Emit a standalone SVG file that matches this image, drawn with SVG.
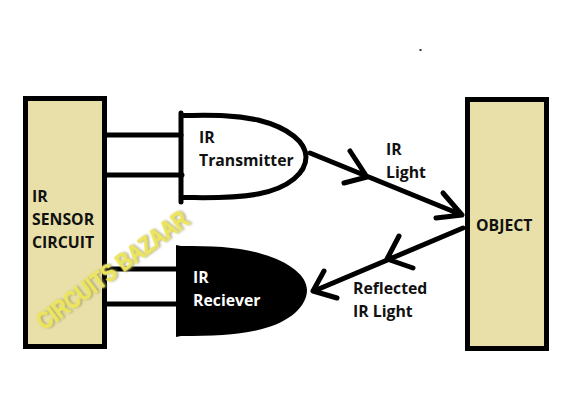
<svg xmlns="http://www.w3.org/2000/svg" width="586" height="401" viewBox="0 0 586 401">
<defs>
<filter id="wm" x="-10%" y="-30%" width="120%" height="160%">
<feGaussianBlur in="SourceGraphic" stdDeviation="0.4" result="b"/>
<feDropShadow in="b" dx="1.5" dy="1" stdDeviation="1" flood-color="#9a9468" flood-opacity="0.8"/>
</filter>
</defs>
<style>
.box{fill:#e9e0a9;stroke:#000;stroke-width:5}
.w{fill:none;stroke:#000;stroke-width:5;stroke-linecap:round;stroke-linejoin:round}
.t{font-family:"Open Sans","Liberation Sans",sans-serif;font-weight:700;font-size:15.8px;fill:#111}
.l{fill:#fff}
.wm{font-family:"Liberation Sans",sans-serif;font-weight:700;font-size:24px;fill:#ece55e;stroke:#ece55e;stroke-width:.8}
</style>
<rect width="586" height="401" fill="#fff"/>
<g id="connectors">
<path class="w" d="M107 135H181M104 175H182M107 269H178M107 304H178" stroke-linecap="butt"/>
<path class="w" d="M310 153L462 215M350 151L367 177L344 183M443 193L462 215L436 218"/>
<path class="w" d="M463 228L314 291M399 236L387 259L413 268M324 271L313 291L337 298"/>
</g>
<g id="sensor-circuit">
<rect class="box" x="25.500" y="98.500" width="79" height="248"/>
<text class="t" x="32" y="202">IR</text>
<text class="t" x="32" y="225">SENSOR</text>
<text class="t" x="32" y="248">CIRCUIT</text>
</g>
<g id="ir-transmitter">
<path class="w" d="M181 113V202M181 115.500C205 115.500 230 114 258 120C290 128 306 143 306 157C306 172 290 188 258 194C230 199 205 197.500 181 197.500" fill="#fff"/>
<text class="t" x="199" y="143">IR</text>
<text class="t" x="199" y="166">Transmitter</text>
</g>
<g id="ir-receiver">
<path d="M176 245L181 246C215 246 240 247 262 254C290 262 307 276 307 290C307 306 290 322 262 329C240 335 215 336 181 336L176 337Z" fill="#000"/>
<text class="t l" x="193" y="283">IR</text>
<text class="t l" x="193" y="306">Reciever</text>
</g>
<g id="object">
<rect class="box" x="467.500" y="99.500" width="79" height="249"/>
<text class="t" x="476" y="231">OBJECT</text>
</g>
<g id="labels">
<text class="t" x="386" y="155">IR</text>
<text class="t" x="386" y="178">Light</text>
<text class="t" x="353" y="294">Reflected</text>
<text class="t" x="353" y="317">IR Light</text>
</g>
<rect x="419.500" y="49" width="2" height="2" fill="#333"/>
<text class="wm" transform="translate(44 331) rotate(-36.500)" filter="url(#wm)" textLength="182" lengthAdjust="spacingAndGlyphs">CIRCUITS BAZAAR</text>
</svg>
